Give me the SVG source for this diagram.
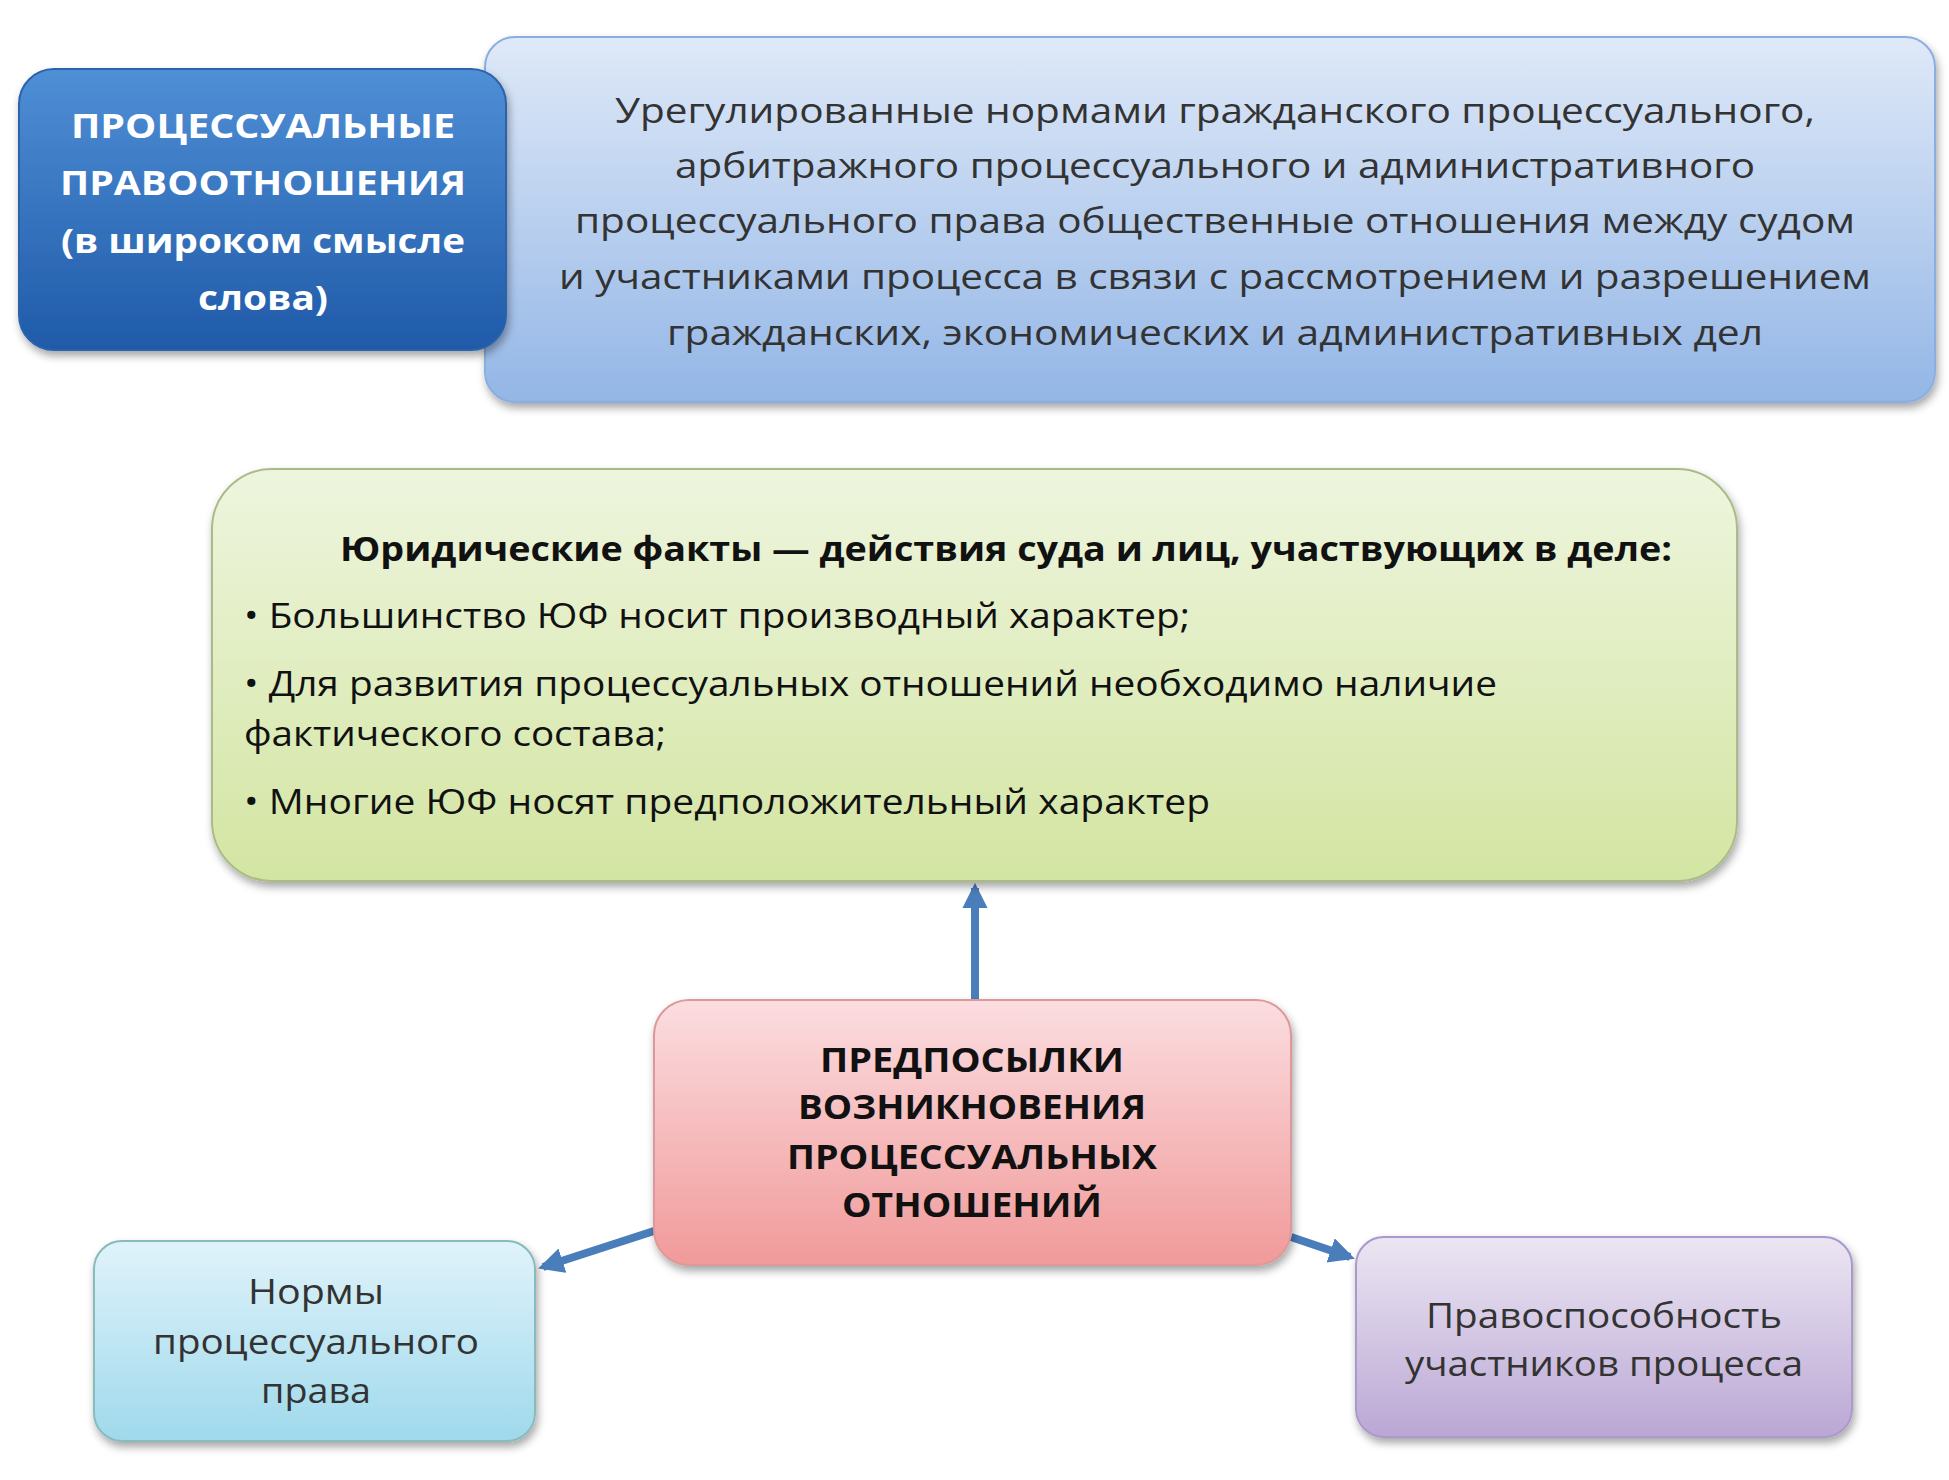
<svg xmlns="http://www.w3.org/2000/svg" width="1949" height="1480" viewBox="0 0 1949 1480">
<defs>
<linearGradient id="gDark" x1="0" y1="0" x2="0" y2="1"><stop offset="0" stop-color="#4f8fd6"/><stop offset="1" stop-color="#1f5aa8"/></linearGradient>
<linearGradient id="gTop" x1="0" y1="0" x2="0" y2="1"><stop offset="0" stop-color="#dfe9f8"/><stop offset="1" stop-color="#93b6e6"/></linearGradient>
<linearGradient id="gGreen" x1="0" y1="0" x2="0" y2="1"><stop offset="0" stop-color="#eef5de"/><stop offset="1" stop-color="#d3e5a2"/></linearGradient>
<linearGradient id="gPink" x1="0" y1="0" x2="0" y2="1"><stop offset="0" stop-color="#fbdde0"/><stop offset="1" stop-color="#f19a9a"/></linearGradient>
<linearGradient id="gCyan" x1="0" y1="0" x2="0" y2="1"><stop offset="0" stop-color="#e0f3fa"/><stop offset="1" stop-color="#9fd9ec"/></linearGradient>
<linearGradient id="gPurple" x1="0" y1="0" x2="0" y2="1"><stop offset="0" stop-color="#ece6f3"/><stop offset="1" stop-color="#baa7d4"/></linearGradient>
<filter id="sh" x="-5%" y="-5%" width="110%" height="120%"><feDropShadow dx="2" dy="5" stdDeviation="4" flood-color="#000" flood-opacity="0.35"/></filter>
<marker id="ah" viewBox="0 0 10 10" refX="8" refY="5" markerWidth="3.2" markerHeight="3.2" orient="auto"><path d="M0,0 L10,5 L0,10 z" fill="#4a7ebb"/></marker>
</defs>
<style>
text{font-family:"Open Sans","Liberation Sans",sans-serif;dominant-baseline:central}
.t{font-size:34px;fill:#333}
.c{text-anchor:middle}
.b{font-weight:bold}
.w{fill:#fff}
.k{fill:#111}
.box{filter:url(#sh);stroke-width:2}
.con{stroke:#4a7ebb;stroke-width:8;fill:none;marker-end:url(#ah)}
</style>
<rect width="1949" height="1480" fill="#fff"/>
<g id="connectors">
<line class="con" x1="975" y1="1000" x2="975" y2="888"/>
<line class="con" x1="654" y1="1231" x2="543" y2="1267"/>
<line class="con" x1="1291" y1="1237" x2="1350" y2="1257"/>
</g>
<g id="definition">
<rect class="box" x="485" y="37" width="1450" height="365" rx="30" fill="url(#gTop)" stroke="#8aaee0"/>
<text class="t c" x="1215" y="110" textLength="1200" lengthAdjust="spacingAndGlyphs">Урегулированные нормами гражданского процессуального,</text>
<text class="t c" x="1215" y="165" textLength="1080" lengthAdjust="spacingAndGlyphs">арбитражного процессуального и административного</text>
<text class="t c" x="1215" y="220" textLength="1280" lengthAdjust="spacingAndGlyphs">процессуального права общественные отношения между судом</text>
<text class="t c" x="1215" y="276" textLength="1312" lengthAdjust="spacingAndGlyphs">и участниками процесса в связи с рассмотрением и разрешением</text>
<text class="t c" x="1215" y="332" textLength="1096" lengthAdjust="spacingAndGlyphs">гражданских, экономических и административных дел</text>
</g>
<g id="title">
<rect class="box" x="19" y="69" width="487" height="281" rx="35" fill="url(#gDark)" stroke="#2a63ac"/>
<text class="t c b w" x="263" y="125" textLength="384" lengthAdjust="spacingAndGlyphs">ПРОЦЕССУАЛЬНЫЕ</text>
<text class="t c b w" x="263" y="182" textLength="406" lengthAdjust="spacingAndGlyphs">ПРАВООТНОШЕНИЯ</text>
<text class="t c b w" x="263" y="240" textLength="404" lengthAdjust="spacingAndGlyphs">(в широком смысле</text>
<text class="t c b w" x="263" y="297" textLength="130" lengthAdjust="spacingAndGlyphs">слова)</text>
</g>
<g id="facts">
<rect class="box" x="212" y="469" width="1525" height="412" rx="60" fill="url(#gGreen)" stroke="#aabb88"/>
<text class="t b k" x="340" y="548" textLength="1332" lengthAdjust="spacingAndGlyphs">Юридические факты — действия суда и лиц, участвующих в деле:</text>
<text class="t k" x="244" y="615" textLength="946" lengthAdjust="spacingAndGlyphs">• Большинство ЮФ носит производный характер;</text>
<text class="t k" x="244" y="683" textLength="1253" lengthAdjust="spacingAndGlyphs">• Для развития процессуальных отношений необходимо наличие</text>
<text class="t k" x="244" y="733" textLength="422" lengthAdjust="spacingAndGlyphs">фактического состава;</text>
<text class="t k" x="244" y="801" textLength="966" lengthAdjust="spacingAndGlyphs">• Многие ЮФ носят предположительный характер</text>
</g>
<g id="prereq">
<rect class="box" x="654" y="1000" width="637" height="265" rx="35" fill="url(#gPink)" stroke="#d99"/>
<text class="t c b k" x="972" y="1059" textLength="304" lengthAdjust="spacingAndGlyphs">ПРЕДПОСЫЛКИ</text>
<text class="t c b k" x="972" y="1106" textLength="348" lengthAdjust="spacingAndGlyphs">ВОЗНИКНОВЕНИЯ</text>
<text class="t c b k" x="972" y="1156" textLength="370" lengthAdjust="spacingAndGlyphs">ПРОЦЕССУАЛЬНЫХ</text>
<text class="t c b k" x="972" y="1204" textLength="260" lengthAdjust="spacingAndGlyphs">ОТНОШЕНИЙ</text>
</g>
<g id="norms">
<rect class="box" x="94" y="1241" width="441" height="200" rx="28" fill="url(#gCyan)" stroke="#8bb"/>
<text class="t c" x="316" y="1291" textLength="136" lengthAdjust="spacingAndGlyphs">Нормы</text>
<text class="t c" x="316" y="1341" textLength="326" lengthAdjust="spacingAndGlyphs">процессуального</text>
<text class="t c" x="316" y="1390" textLength="110" lengthAdjust="spacingAndGlyphs">права</text>
</g>
<g id="capacity">
<rect class="box" x="1356" y="1237" width="496" height="200" rx="28" fill="url(#gPurple)" stroke="#a9c"/>
<text class="t c" x="1604" y="1315" textLength="356" lengthAdjust="spacingAndGlyphs">Правоспособность</text>
<text class="t c" x="1604" y="1363" textLength="398" lengthAdjust="spacingAndGlyphs">участников процесса</text>
</g>
</svg>
